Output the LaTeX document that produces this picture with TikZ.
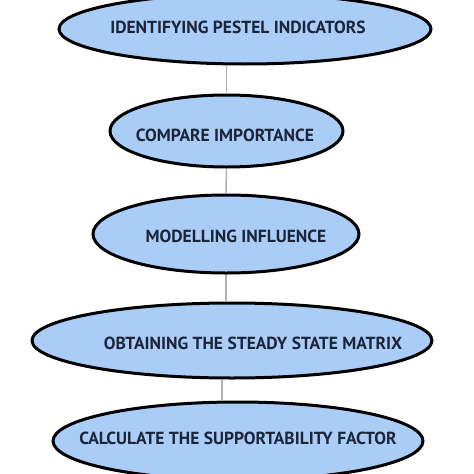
\documentclass[tikz,border=0pt]{standalone}
\usepackage{fontspec}
\setmainfont{PT Sans}
\usetikzlibrary{shapes.geometric}
\definecolor{ellfill}{HTML}{A9CDF7}
\definecolor{txtcol}{HTML}{1C2438}
\definecolor{linkcol}{HTML}{B0B0B0}
\tikzset{
  stage/.style={ellipse, draw=black, line width=3pt, fill=ellfill, inner sep=0pt},
  stagetext/.style={font=\bfseries\fontsize{17.5}{17.5}\selectfont, text=txtcol, inner sep=0pt},
  link/.style={draw=linkcol, line width=1.5pt}
}
\begin{document}
\begin{tikzpicture}[x=1pt,y=-1pt]
\useasboundingbox (0,0) rectangle (474,474);
\node[stage, minimum width=372pt, minimum height=70pt] (e1) at (245,29) {};
\node[stage, minimum width=233pt, minimum height=72pt] (e2) at (226.5,131) {};
\node[stage, minimum width=266pt, minimum height=78pt] (e3) at (226,234) {};
\node[stage, minimum width=400pt, minimum height=75pt] (e4) at (232,340.5) {};
\node[stage, minimum width=370pt, minimum height=78pt] (e5) at (238,441) {};
\node[stagetext] (t1) at (238,27) {IDENTIFYING PESTEL INDICATORS};
\node[stagetext] (t2) at (225,135) {COMPARE IMPORTANCE};
\node[stagetext] (t3) at (236,236) {MODELLING INFLUENCE};
\node[stagetext] (t4) at (253,343) {OBTAINING THE STEADY STATE MATRIX};
\node[stagetext] (t5) at (238,438) {CALCULATE THE SUPPORTABILITY FACTOR};
\path[link] (e1.south -| e2.north) -- (e2.north);
\path[link] (e2.south) -- (e3.north);
\path[link] (e3.south) -- (e3.south |- e4.north);
\path[link] (e4.south -| 222,0) -- (e5.north -| 222,0);
\end{tikzpicture}
\end{document}
